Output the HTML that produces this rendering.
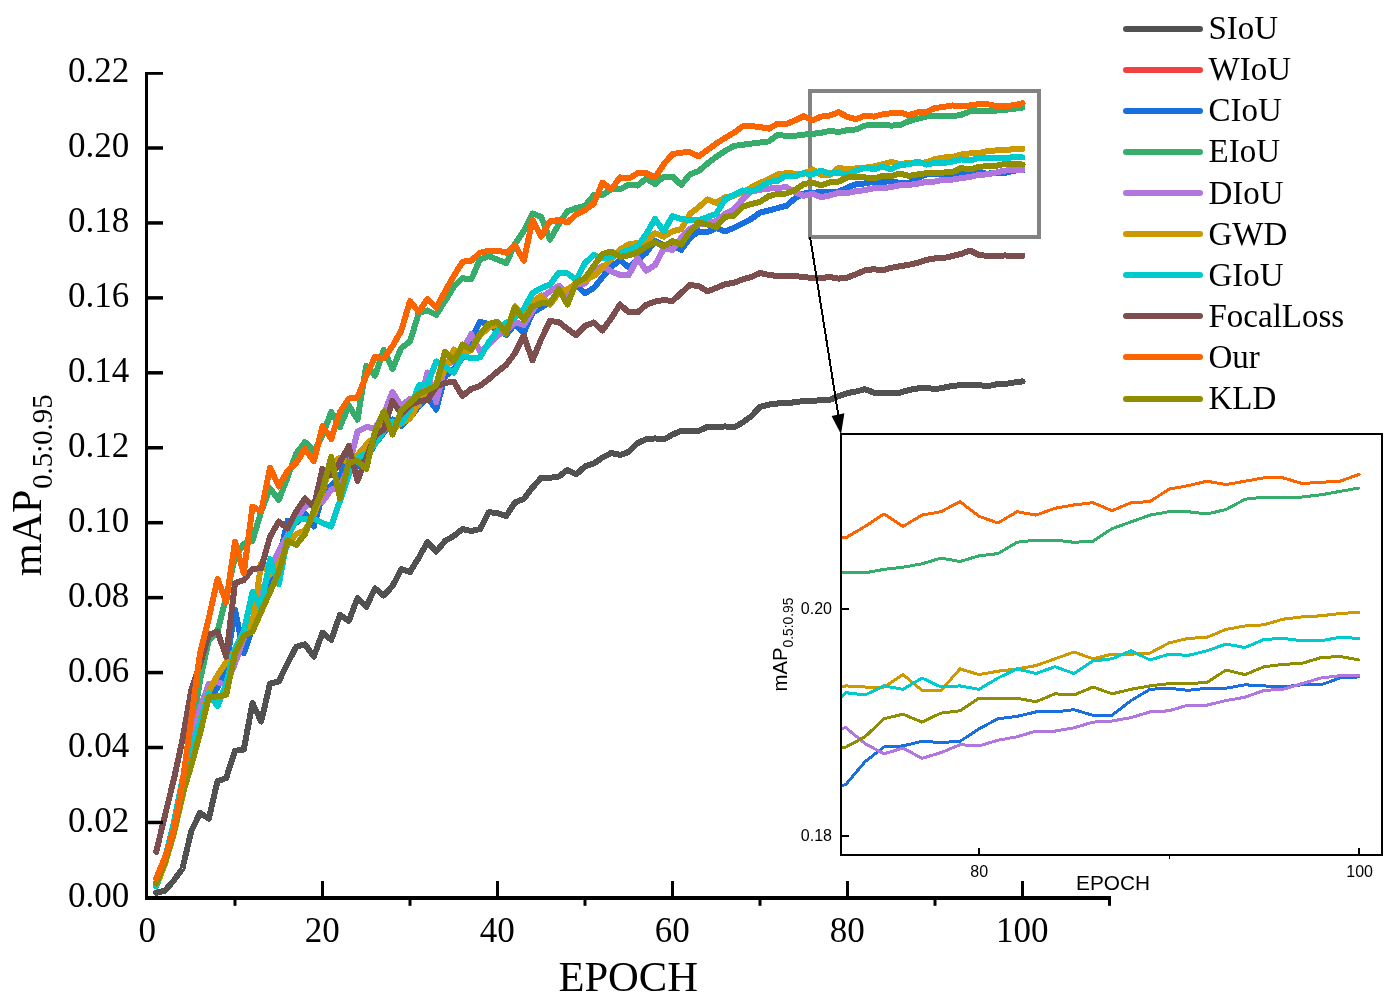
<!DOCTYPE html>
<html><head><meta charset="utf-8"><title>mAP chart</title>
<style>
html,body{margin:0;padding:0;background:#fff;}
svg{display:block;}
.t{font-family:"Liberation Serif",serif;fill:#000;}
.a{font-family:"Liberation Sans",sans-serif;fill:#000;}
.c{fill:none;stroke-width:6;stroke-linejoin:round;stroke-linecap:round;}
.i{fill:none;stroke-width:3;stroke-linejoin:round;stroke-linecap:round;}
</style></head><body>
<svg width="1397" height="1004" viewBox="0 0 1397 1004">
<rect width="1397" height="1004" fill="#fff"/>
<rect x="810" y="91" width="229" height="146" fill="none" stroke="#838383" stroke-width="4"/>
<g id="main-curves" shape-rendering="crispEdges" transform="scale(1.0,1)">
<polyline class="c" stroke="#515151" points="156.2,892.9 165.0,890.6 173.8,880.5 182.5,868.5 191.2,831.4 200.0,813.0 208.8,818.6 217.5,781.1 226.2,778.1 235.0,750.8 243.8,749.6 252.5,703.1 261.2,721.5 270.0,683.6 278.8,681.4 287.5,663.4 296.2,646.9 305.0,644.2 313.8,656.6 322.5,632.6 331.2,639.8 340.0,615.0 348.8,621.0 357.5,598.1 366.2,606.8 375.0,588.4 383.8,595.5 392.5,586.1 401.2,569.2 410.0,571.9 418.8,557.6 427.5,541.9 436.2,551.6 445.0,541.1 453.8,535.9 462.5,529.1 471.2,531.0 480.0,529.1 488.8,512.2 497.5,513.0 506.2,516.0 515.0,502.5 523.8,498.8 532.5,487.5 541.2,477.8 550.0,477.8 558.8,476.6 567.5,469.9 576.2,474.4 585.0,466.5 593.8,463.5 602.5,457.5 611.2,453.0 620.0,454.9 628.8,451.9 637.5,443.2 646.2,439.1 655.0,438.4 663.8,439.5 672.5,434.6 681.2,430.9 690.0,430.9 698.8,430.9 707.5,426.8 716.2,427.5 725.0,426.4 733.8,427.5 742.5,422.6 751.2,416.3 760.0,406.9 768.8,404.6 777.5,403.5 786.2,402.8 795.0,402.4 803.8,400.9 812.5,400.9 821.2,400.1 830.0,399.8 838.8,396.0 847.5,393.0 856.2,391.5 865.0,389.2 873.8,392.6 882.5,392.6 891.2,392.6 900.0,392.6 908.8,390.0 917.5,388.5 926.2,387.7 935.0,389.2 943.8,387.7 952.5,385.9 961.2,385.1 970.0,384.8 978.8,385.1 987.5,386.2 996.2,384.4 1005.0,384.0 1013.8,382.5 1022.5,381.4"/>
<polyline class="c" stroke="#F14040" points="156.2,878.2 165.0,857.6 173.8,829.1 182.5,783.0 191.2,719.6 200.0,653.2 208.8,618.4 217.5,579.0 226.2,601.9 235.0,541.9 243.8,573.4 252.5,506.6 261.2,511.5 270.0,467.6 278.8,486.4 287.5,471.0 296.2,463.1 305.0,448.9 313.8,461.2 322.5,426.0 331.2,439.1 340.0,411.8 348.8,398.6 357.5,397.5 366.2,375.8 375.0,357.0 383.8,358.1 392.5,346.1 401.2,330.8 410.0,301.1 418.8,312.0 427.5,298.9 436.2,307.9 445.0,291.4 453.8,276.0 462.5,261.8 471.2,260.6 480.0,252.8 488.8,250.5 497.5,250.5 506.2,252.8 515.0,245.2 523.8,260.6 532.5,220.1 541.2,236.6 550.0,221.2 558.8,220.1 567.5,222.4 576.2,214.5 585.0,210.0 593.8,203.6 602.5,182.6 611.2,189.4 620.0,177.4 628.8,178.5 637.5,173.2 646.2,173.2 655.0,177.4 663.8,164.2 672.5,154.1 681.2,152.6 690.0,152.2 698.8,156.4 707.5,150.0 716.2,143.6 725.0,138.0 733.8,132.8 742.5,126.4 751.2,126.0 760.0,127.1 768.8,128.6 777.5,123.8 786.2,124.1 795.0,120.4 803.8,116.2 812.5,120.4 821.2,116.6 830.0,115.5 838.8,112.1 847.5,117.0 856.2,119.2 865.0,115.5 873.8,116.6 882.5,114.4 891.2,113.2 900.0,112.5 908.8,115.1 917.5,112.5 926.2,112.1 935.0,108.0 943.8,106.9 952.5,105.4 961.2,106.5 970.0,105.4 978.8,104.2 987.5,104.2 996.2,106.1 1005.0,105.8 1013.8,105.4 1022.5,103.1"/>
<polyline class="c" stroke="#1A6FDF" points="156.2,886.5 165.0,864.0 173.8,834.0 182.5,796.5 191.2,759.0 200.0,725.2 208.8,699.0 217.5,687.8 226.2,665.2 235.0,609.8 243.8,653.2 252.5,627.8 261.2,601.5 270.0,579.0 278.8,560.2 287.5,520.9 296.2,522.8 305.0,513.4 313.8,526.5 322.5,494.6 331.2,485.2 340.0,477.8 348.8,445.9 357.5,466.5 366.2,459.0 375.0,444.0 383.8,432.8 392.5,419.6 401.2,426.0 410.0,417.8 418.8,406.5 427.5,397.1 436.2,409.5 445.0,376.5 453.8,369.0 462.5,357.8 471.2,339.0 480.0,321.8 488.8,324.0 497.5,330.8 506.2,334.9 515.0,324.0 523.8,332.6 532.5,312.8 541.2,307.5 550.0,302.2 558.8,293.2 567.5,289.1 576.2,284.6 585.0,293.2 593.8,288.0 602.5,277.1 611.2,267.0 620.0,260.2 628.8,267.4 637.5,260.2 646.2,252.8 655.0,241.1 663.8,245.2 672.5,245.2 681.2,249.8 690.0,237.8 698.8,231.4 707.5,232.1 716.2,228.0 725.0,231.4 733.8,228.0 742.5,223.5 751.2,219.0 760.0,212.6 768.8,210.4 777.5,208.1 786.2,205.9 795.0,198.4 803.8,193.5 812.5,193.1 821.2,191.6 830.0,192.0 838.8,191.6 847.5,187.5 856.2,184.1 865.0,183.4 873.8,181.9 882.5,181.9 891.2,181.1 900.0,183.0 908.8,183.0 917.5,178.1 926.2,174.4 935.0,174.0 943.8,174.8 952.5,174.0 961.2,174.0 970.0,172.9 978.8,173.2 987.5,173.6 996.2,172.9 1005.0,172.9 1013.8,170.6 1022.5,170.2"/>
<polyline class="c" stroke="#37AD6B" points="156.2,882.8 165.0,864.0 173.8,834.0 182.5,792.8 191.2,736.5 200.0,680.2 208.8,640.1 217.5,631.5 226.2,596.6 235.0,556.9 243.8,543.8 252.5,540.8 261.2,511.5 270.0,488.2 278.8,499.9 287.5,477.4 296.2,453.4 305.0,442.1 313.8,451.1 322.5,435.8 331.2,411.8 340.0,427.1 348.8,405.4 357.5,419.6 366.2,365.6 375.0,375.8 383.8,349.9 392.5,369.0 401.2,348.0 410.0,341.6 418.8,312.8 427.5,310.5 436.2,315.0 445.0,301.1 453.8,286.9 462.5,278.2 471.2,279.4 480.0,259.5 488.8,256.1 497.5,259.5 506.2,263.2 515.0,244.1 523.8,231.0 532.5,213.4 541.2,216.8 550.0,239.6 558.8,224.2 567.5,211.1 576.2,208.1 585.0,205.9 593.8,195.0 602.5,195.0 611.2,189.4 620.0,189.4 628.8,184.5 637.5,185.6 646.2,178.5 655.0,184.1 663.8,176.6 672.5,176.6 681.2,184.9 690.0,174.4 698.8,171.0 707.5,163.5 716.2,156.8 725.0,151.1 733.8,145.9 742.5,144.8 751.2,143.6 760.0,142.5 768.8,141.4 777.5,135.0 786.2,135.8 795.0,135.8 803.8,134.6 812.5,133.9 821.2,132.8 830.0,130.9 838.8,132.0 847.5,130.1 856.2,129.4 865.0,125.6 873.8,124.9 882.5,124.9 891.2,125.6 900.0,125.2 908.8,121.1 917.5,118.9 926.2,116.6 935.0,115.5 943.8,115.5 952.5,116.2 961.2,114.8 970.0,111.4 978.8,110.6 987.5,110.6 996.2,110.6 1005.0,109.9 1013.8,108.8 1022.5,107.6"/>
<polyline class="c" stroke="#B177DE" points="156.2,886.5 165.0,864.0 173.8,832.1 182.5,789.0 191.2,744.0 200.0,708.4 208.8,684.0 217.5,682.1 226.2,684.8 235.0,663.4 243.8,638.2 252.5,620.2 261.2,594.0 270.0,569.6 278.8,550.9 287.5,535.9 296.2,519.0 305.0,506.6 313.8,501.8 322.5,501.8 331.2,489.8 340.0,486.4 348.8,466.5 357.5,431.6 366.2,427.1 375.0,428.2 383.8,414.0 392.5,391.9 401.2,406.5 410.0,398.6 418.8,405.4 427.5,372.4 436.2,402.0 445.0,365.6 453.8,361.5 462.5,350.6 471.2,334.1 480.0,351.4 488.8,345.0 497.5,335.2 506.2,330.8 515.0,321.8 523.8,325.1 532.5,310.9 541.2,297.8 550.0,291.4 558.8,285.8 567.5,294.4 576.2,284.6 585.0,283.5 593.8,270.4 602.5,265.9 611.2,271.5 620.0,274.9 628.8,275.2 637.5,258.0 646.2,270.8 655.0,265.1 663.8,248.6 672.5,249.8 681.2,237.8 690.0,229.1 698.8,224.6 707.5,222.4 716.2,221.2 725.0,213.8 733.8,209.2 742.5,199.5 751.2,191.6 760.0,189.8 768.8,188.6 777.5,187.9 786.2,187.1 795.0,192.4 803.8,195.8 812.5,193.9 821.2,197.2 830.0,195.4 838.8,192.8 847.5,193.1 856.2,191.2 865.0,190.1 873.8,188.2 882.5,188.2 891.2,187.1 900.0,185.2 908.8,184.9 917.5,183.8 926.2,181.9 935.0,181.5 943.8,179.6 952.5,179.6 961.2,178.1 970.0,177.0 978.8,174.8 987.5,174.4 996.2,172.5 1005.0,170.6 1013.8,169.9 1022.5,169.9"/>
<polyline class="c" stroke="#CC9900" points="156.2,886.5 165.0,864.0 173.8,834.0 182.5,796.5 191.2,759.0 200.0,721.5 208.8,691.5 217.5,675.4 226.2,662.2 235.0,650.2 243.8,635.2 252.5,622.9 261.2,563.6 270.0,574.5 278.8,564.0 287.5,545.2 296.2,534.0 305.0,530.6 313.8,515.2 322.5,491.6 331.2,462.8 340.0,457.9 348.8,462.8 357.5,455.2 366.2,444.8 375.0,436.5 383.8,425.2 392.5,429.0 401.2,423.4 410.0,418.5 418.8,402.8 427.5,391.5 436.2,384.0 445.0,370.1 453.8,349.5 462.5,354.0 471.2,350.2 480.0,335.2 488.8,327.8 497.5,324.0 506.2,331.5 515.0,306.4 523.8,316.5 532.5,302.2 541.2,295.5 550.0,304.5 558.8,293.2 567.5,289.1 576.2,283.5 585.0,280.1 593.8,276.0 602.5,268.1 611.2,259.5 620.0,249.4 628.8,244.5 637.5,243.0 646.2,241.9 655.0,233.2 663.8,236.6 672.5,231.4 681.2,229.1 690.0,213.8 698.8,207.0 707.5,199.5 716.2,202.9 725.0,197.2 733.8,195.8 742.5,192.0 751.2,187.5 760.0,183.0 768.8,178.9 777.5,174.4 786.2,173.2 795.0,173.6 803.8,173.6 812.5,169.5 821.2,174.8 830.0,174.8 838.8,167.6 847.5,169.5 856.2,168.4 865.0,167.6 873.8,166.5 882.5,164.2 891.2,162.0 900.0,164.2 908.8,162.8 917.5,162.8 926.2,162.4 935.0,159.0 943.8,157.5 952.5,157.1 961.2,154.5 970.0,153.4 978.8,153.0 987.5,151.1 996.2,150.4 1005.0,150.0 1013.8,149.2 1022.5,148.9"/>
<polyline class="c" stroke="#00CBCC" points="156.2,886.5 165.0,858.4 173.8,822.8 182.5,779.6 191.2,747.8 200.0,722.2 208.8,693.4 217.5,706.1 226.2,684.0 235.0,648.4 243.8,631.5 252.5,592.1 261.2,607.5 270.0,559.1 278.8,584.2 287.5,537.8 296.2,519.8 305.0,518.6 313.8,518.6 322.5,523.1 331.2,526.5 340.0,500.6 348.8,475.1 357.5,457.9 366.2,453.4 375.0,444.0 383.8,430.9 392.5,421.5 401.2,423.4 410.0,409.5 418.8,385.5 427.5,384.0 436.2,361.5 445.0,367.1 453.8,372.8 462.5,355.9 471.2,358.1 480.0,357.4 488.8,342.4 497.5,330.8 506.2,322.9 515.0,317.6 523.8,308.6 532.5,293.2 541.2,288.0 550.0,284.6 558.8,272.6 567.5,273.4 576.2,280.1 585.0,262.9 593.8,255.0 602.5,258.4 611.2,257.2 620.0,253.5 628.8,249.8 637.5,246.4 646.2,234.0 655.0,219.0 663.8,231.4 672.5,216.0 681.2,219.0 690.0,220.1 698.8,220.1 707.5,217.1 716.2,213.8 725.0,199.5 733.8,195.0 742.5,190.5 751.2,191.6 760.0,187.5 768.8,181.9 777.5,180.8 786.2,175.5 795.0,176.2 803.8,173.2 812.5,174.4 821.2,170.6 830.0,173.6 838.8,173.2 847.5,174.4 856.2,170.6 865.0,167.6 873.8,169.1 882.5,166.9 891.2,169.1 900.0,165.0 908.8,164.2 917.5,161.6 926.2,164.6 935.0,162.8 943.8,163.1 952.5,161.6 961.2,159.4 970.0,160.5 978.8,157.9 987.5,157.5 996.2,158.2 1005.0,158.2 1013.8,157.1 1022.5,157.5"/>
<polyline class="c" stroke="#7D4E4E" points="156.2,852.0 165.0,815.2 173.8,779.6 182.5,739.5 191.2,690.4 200.0,664.5 208.8,634.9 217.5,631.5 226.2,656.6 235.0,583.1 243.8,580.1 252.5,568.9 261.2,568.1 270.0,536.6 278.8,521.6 287.5,528.4 296.2,511.5 305.0,498.4 313.8,507.0 322.5,468.8 331.2,475.1 340.0,462.0 348.8,446.2 357.5,480.8 366.2,457.9 375.0,435.8 383.8,429.4 392.5,400.9 401.2,414.0 410.0,405.0 418.8,401.3 427.5,399.8 436.2,386.6 445.0,382.9 453.8,381.8 462.5,396.0 471.2,388.9 480.0,385.9 488.8,379.1 497.5,371.6 506.2,364.9 515.0,353.2 523.8,335.6 532.5,360.4 541.2,339.0 550.0,321.0 558.8,322.1 567.5,328.9 576.2,335.2 585.0,325.9 593.8,322.5 602.5,330.4 611.2,318.4 620.0,304.5 628.8,312.4 637.5,312.4 646.2,304.9 655.0,301.5 663.8,300.0 672.5,301.1 681.2,292.9 690.0,285.0 698.8,286.1 707.5,291.4 716.2,288.0 725.0,284.2 733.8,282.8 742.5,279.4 751.2,277.1 760.0,273.0 768.8,274.9 777.5,276.0 786.2,276.0 795.0,276.0 803.8,277.1 812.5,277.9 821.2,277.9 830.0,277.1 838.8,278.6 847.5,277.5 856.2,274.1 865.0,270.4 873.8,269.2 882.5,270.4 891.2,267.8 900.0,266.2 908.8,264.8 917.5,262.9 926.2,259.9 935.0,258.4 943.8,258.0 952.5,256.1 961.2,253.9 970.0,250.5 978.8,255.0 987.5,255.8 996.2,256.1 1005.0,255.4 1013.8,256.1 1022.5,255.8"/>
<polyline class="c" stroke="#8E8E00" points="156.2,883.5 165.0,862.1 173.8,833.2 182.5,794.6 191.2,765.8 200.0,733.5 208.8,697.1 217.5,696.4 226.2,694.9 235.0,653.2 243.8,636.0 252.5,631.5 261.2,611.6 270.0,592.1 278.8,572.2 287.5,540.4 296.2,544.9 305.0,534.0 313.8,510.8 322.5,490.5 331.2,456.8 340.0,498.4 348.8,462.0 357.5,461.2 366.2,468.8 375.0,431.6 383.8,411.4 392.5,434.6 401.2,410.6 410.0,403.1 418.8,394.1 427.5,390.0 436.2,385.5 445.0,351.8 453.8,361.1 462.5,344.6 471.2,349.5 480.0,334.1 488.8,324.0 497.5,321.8 506.2,333.8 515.0,307.5 523.8,319.9 532.5,306.4 541.2,303.4 550.0,303.4 558.8,289.1 567.5,304.5 576.2,282.4 585.0,278.2 593.8,265.9 602.5,253.9 611.2,251.6 620.0,256.9 628.8,255.4 637.5,252.4 646.2,246.4 655.0,242.2 663.8,246.4 672.5,241.1 681.2,244.5 690.0,231.4 698.8,222.4 707.5,224.6 716.2,226.9 725.0,216.8 733.8,216.0 742.5,207.0 751.2,204.0 760.0,201.8 768.8,196.1 777.5,193.9 786.2,193.5 795.0,190.1 803.8,184.1 812.5,182.6 821.2,185.2 830.0,182.2 838.8,181.5 847.5,177.4 856.2,177.4 865.0,177.4 873.8,178.5 882.5,175.9 891.2,176.2 900.0,173.6 908.8,175.9 917.5,174.4 926.2,173.2 935.0,172.5 943.8,172.5 952.5,172.1 961.2,168.0 970.0,169.5 978.8,166.9 987.5,166.1 996.2,165.8 1005.0,163.9 1013.8,163.5 1022.5,164.6"/>
<polyline class="c" stroke="#FB6501" points="156.2,878.2 165.0,857.6 173.8,829.1 182.5,783.0 191.2,719.6 200.0,653.2 208.8,618.4 217.5,579.0 226.2,601.9 235.0,541.9 243.8,573.4 252.5,506.6 261.2,511.5 270.0,467.6 278.8,486.4 287.5,471.0 296.2,463.1 305.0,448.9 313.8,461.2 322.5,426.0 331.2,439.1 340.0,411.8 348.8,398.6 357.5,397.5 366.2,375.8 375.0,357.0 383.8,358.1 392.5,346.1 401.2,330.8 410.0,301.1 418.8,312.0 427.5,298.9 436.2,307.9 445.0,291.4 453.8,276.0 462.5,261.8 471.2,260.6 480.0,252.8 488.8,250.5 497.5,250.5 506.2,252.8 515.0,245.2 523.8,260.6 532.5,220.1 541.2,236.6 550.0,221.2 558.8,220.1 567.5,222.4 576.2,214.5 585.0,210.0 593.8,203.6 602.5,182.6 611.2,189.4 620.0,177.4 628.8,178.5 637.5,173.2 646.2,173.2 655.0,177.4 663.8,164.2 672.5,154.1 681.2,152.6 690.0,152.2 698.8,156.4 707.5,150.0 716.2,143.6 725.0,138.0 733.8,132.8 742.5,126.4 751.2,126.0 760.0,127.1 768.8,128.6 777.5,123.8 786.2,124.1 795.0,120.4 803.8,116.2 812.5,120.4 821.2,116.6 830.0,115.5 838.8,112.1 847.5,117.0 856.2,119.2 865.0,115.5 873.8,116.6 882.5,114.4 891.2,113.2 900.0,112.5 908.8,115.1 917.5,112.5 926.2,112.1 935.0,108.0 943.8,106.9 952.5,105.4 961.2,106.5 970.0,105.4 978.8,104.2 987.5,104.2 996.2,106.1 1005.0,105.8 1013.8,105.4 1022.5,103.1"/>
</g>
<g fill="#000">
<rect x="145" y="72" width="3" height="828"/>
<rect x="145" y="896" width="966" height="4"/>
<rect x="147" y="820.71" width="16" height="3.50"/>
<rect x="147" y="745.77" width="16" height="3.50"/>
<rect x="147" y="670.83" width="16" height="3.50"/>
<rect x="147" y="595.89" width="16" height="3.50"/>
<rect x="147" y="520.95" width="16" height="3.50"/>
<rect x="147" y="446.01" width="16" height="3.50"/>
<rect x="147" y="371.07" width="16" height="3.50"/>
<rect x="147" y="296.13" width="16" height="3.50"/>
<rect x="147" y="221.19" width="16" height="3.50"/>
<rect x="147" y="146.25" width="16" height="3.50"/>
<rect x="147" y="72.00" width="16" height="2.81"/>
<rect x="321.0" y="881" width="3" height="16"/>
<rect x="496.0" y="881" width="3" height="16"/>
<rect x="671.0" y="881" width="3" height="16"/>
<rect x="846.0" y="881" width="3" height="16"/>
<rect x="1021.0" y="881" width="3" height="16"/>
<rect x="233.5" y="899" width="3" height="6.8"/>
<rect x="408.5" y="899" width="3" height="6.8"/>
<rect x="583.5" y="899" width="3" height="6.8"/>
<rect x="758.5" y="899" width="3" height="6.8"/>
<rect x="933.5" y="899" width="3" height="6.8"/>
<rect x="1108.0" y="899" width="3" height="6.8"/>
</g>
<g class="t" font-size="35">
<text x="129.3" y="906.7" text-anchor="end">0.00</text>
<text x="129.3" y="831.8" text-anchor="end">0.02</text>
<text x="129.3" y="756.8" text-anchor="end">0.04</text>
<text x="129.3" y="681.9" text-anchor="end">0.06</text>
<text x="129.3" y="606.9" text-anchor="end">0.08</text>
<text x="129.3" y="532.0" text-anchor="end">0.10</text>
<text x="129.3" y="457.1" text-anchor="end">0.12</text>
<text x="129.3" y="382.1" text-anchor="end">0.14</text>
<text x="129.3" y="307.2" text-anchor="end">0.16</text>
<text x="129.3" y="232.2" text-anchor="end">0.18</text>
<text x="129.3" y="157.3" text-anchor="end">0.20</text>
<text x="129.3" y="82.4" text-anchor="end">0.22</text>
<text x="147.2" y="942" text-anchor="middle">0</text>
<text x="322.2" y="942" text-anchor="middle">20</text>
<text x="497.2" y="942" text-anchor="middle">40</text>
<text x="672.2" y="942" text-anchor="middle">60</text>
<text x="847.2" y="942" text-anchor="middle">80</text>
<text x="1022.2" y="942" text-anchor="middle">100</text>
</g>
<text class="t" font-size="42.6" x="628.2" y="990.6" text-anchor="middle">EPOCH</text>
<text class="t" font-size="42" transform="translate(41.2,576) rotate(-90)">mAP<tspan font-size="28.8" dx="0.8" dy="11.2">0.5:0.95</tspan></text>
<g id="legend">
<rect x="1123" y="26" width="80" height="6" rx="3" ry="3" fill="#515151"/>
<text class="t" font-size="33" x="1208.5" y="39.2">SIoU</text>
<rect x="1123" y="67" width="80" height="6" rx="3" ry="3" fill="#F14040"/>
<text class="t" font-size="33" x="1208.5" y="80.3">WIoU</text>
<rect x="1123" y="108" width="80" height="6" rx="3" ry="3" fill="#1A6FDF"/>
<text class="t" font-size="33" x="1208.5" y="121.4">CIoU</text>
<rect x="1123" y="149" width="80" height="6" rx="3" ry="3" fill="#37AD6B"/>
<text class="t" font-size="33" x="1208.5" y="162.4">EIoU</text>
<rect x="1123" y="190" width="80" height="6" rx="3" ry="3" fill="#B177DE"/>
<text class="t" font-size="33" x="1208.5" y="203.5">DIoU</text>
<rect x="1123" y="231" width="80" height="6" rx="3" ry="3" fill="#CC9900"/>
<text class="t" font-size="33" x="1208.5" y="244.6">GWD</text>
<rect x="1123" y="272" width="80" height="6" rx="3" ry="3" fill="#00CBCC"/>
<text class="t" font-size="33" x="1208.5" y="285.7">GIoU</text>
<rect x="1123" y="313" width="80" height="6" rx="3" ry="3" fill="#7D4E4E"/>
<text class="t" font-size="33" x="1208.5" y="326.8">FocalLoss</text>
<rect x="1123" y="354" width="80" height="6" rx="3" ry="3" fill="#FB6501"/>
<text class="t" font-size="33" x="1208.5" y="367.8">Our</text>
<rect x="1123" y="396" width="80" height="6" rx="3" ry="3" fill="#8E8E00"/>
<text class="t" font-size="33" x="1208.5" y="408.9">KLD</text>
</g>
<path d="M810.1,237 L838.3,415" stroke="#000" stroke-width="2" fill="none" shape-rendering="crispEdges"/>
<path d="M841,434.2 L831.6,415.9 L844.4,413.3 Z" fill="#000"/>
<g id="inset">
<clipPath id="ic"><rect x="841" y="434" width="541" height="421"/></clipPath>
<g clip-path="url(#ic)" shape-rendering="crispEdges"><g transform="scale(1,1)">
<polyline class="i" stroke="#F14040" points="827.0,536.6 846.0,537.7 865.0,526.4 884.0,514.0 903.0,526.4 922.0,515.1 941.0,511.7 960.0,501.6 979.0,516.3 998.0,523.0 1017.0,511.7 1036.0,515.1 1055.0,508.3 1074.0,504.9 1093.0,502.7 1112.0,510.6 1131.0,502.7 1150.0,501.6 1169.0,489.1 1188.0,485.7 1207.0,481.2 1226.0,484.6 1245.0,481.2 1264.0,477.8 1283.0,477.8 1302.0,483.5 1321.0,482.3 1340.0,481.2 1359.0,474.4"/>
<polyline class="i" stroke="#1A6FDF" points="827.0,791.1 846.0,784.3 865.0,761.7 884.0,747.0 903.0,745.9 922.0,741.3 941.0,742.5 960.0,741.3 979.0,728.9 998.0,718.7 1017.0,716.4 1036.0,711.9 1055.0,711.9 1074.0,709.7 1093.0,715.3 1112.0,715.3 1131.0,700.6 1150.0,689.3 1169.0,688.2 1188.0,690.4 1207.0,688.2 1226.0,688.2 1245.0,684.8 1264.0,685.9 1283.0,687.0 1302.0,684.8 1321.0,684.8 1340.0,678.0 1359.0,676.9"/>
<polyline class="i" stroke="#37AD6B" points="827.0,570.5 846.0,572.8 865.0,572.8 884.0,569.4 903.0,567.2 922.0,563.8 941.0,558.1 960.0,561.5 979.0,555.8 998.0,553.6 1017.0,542.3 1036.0,540.0 1055.0,540.0 1074.0,542.3 1093.0,541.1 1112.0,528.7 1131.0,521.9 1150.0,515.1 1169.0,511.7 1188.0,511.7 1207.0,514.0 1226.0,509.5 1245.0,499.3 1264.0,497.0 1283.0,497.0 1302.0,497.0 1321.0,494.8 1340.0,491.4 1359.0,488.0"/>
<polyline class="i" stroke="#B177DE" points="827.0,730.0 846.0,727.8 865.0,743.6 884.0,753.8 903.0,748.1 922.0,758.3 941.0,752.6 960.0,744.7 979.0,745.9 998.0,740.2 1017.0,736.8 1036.0,731.1 1055.0,731.1 1074.0,727.8 1093.0,722.1 1112.0,721.0 1131.0,717.6 1150.0,711.9 1169.0,710.8 1188.0,705.1 1207.0,705.1 1226.0,700.6 1245.0,697.2 1264.0,690.4 1283.0,689.3 1302.0,683.6 1321.0,678.0 1340.0,675.7 1359.0,675.7"/>
<polyline class="i" stroke="#CC9900" points="827.0,689.3 846.0,685.9 865.0,687.0 884.0,687.0 903.0,674.6 922.0,690.4 941.0,690.4 960.0,668.9 979.0,674.6 998.0,671.2 1017.0,668.9 1036.0,665.6 1055.0,658.8 1074.0,652.0 1093.0,658.8 1112.0,654.2 1131.0,654.2 1150.0,653.1 1169.0,642.9 1188.0,638.4 1207.0,637.3 1226.0,629.4 1245.0,626.0 1264.0,624.8 1283.0,619.2 1302.0,616.9 1321.0,615.8 1340.0,613.5 1359.0,612.4"/>
<polyline class="i" stroke="#00CBCC" points="827.0,708.5 846.0,692.7 865.0,695.0 884.0,685.9 903.0,689.3 922.0,678.0 941.0,687.0 960.0,685.9 979.0,689.3 998.0,678.0 1017.0,668.9 1036.0,673.5 1055.0,666.7 1074.0,673.5 1093.0,661.0 1112.0,658.8 1131.0,650.8 1150.0,659.9 1169.0,654.2 1188.0,655.4 1207.0,650.8 1226.0,644.1 1245.0,647.5 1264.0,639.5 1283.0,638.4 1302.0,640.7 1321.0,640.7 1340.0,637.3 1359.0,638.4"/>
<polyline class="i" stroke="#8E8E00" points="827.0,748.1 846.0,747.0 865.0,736.8 884.0,718.7 903.0,714.2 922.0,722.1 941.0,713.1 960.0,710.8 979.0,698.3 998.0,698.3 1017.0,698.3 1036.0,701.7 1055.0,693.8 1074.0,695.0 1093.0,687.0 1112.0,693.8 1131.0,689.3 1150.0,685.9 1169.0,683.6 1188.0,683.6 1207.0,682.5 1226.0,670.1 1245.0,674.6 1264.0,666.7 1283.0,664.4 1302.0,663.3 1321.0,657.6 1340.0,656.5 1359.0,659.9"/>
<polyline class="i" stroke="#FB6501" points="827.0,536.6 846.0,537.7 865.0,526.4 884.0,514.0 903.0,526.4 922.0,515.1 941.0,511.7 960.0,501.6 979.0,516.3 998.0,523.0 1017.0,511.7 1036.0,515.1 1055.0,508.3 1074.0,504.9 1093.0,502.7 1112.0,510.6 1131.0,502.7 1150.0,501.6 1169.0,489.1 1188.0,485.7 1207.0,481.2 1226.0,484.6 1245.0,481.2 1264.0,477.8 1283.0,477.8 1302.0,483.5 1321.0,482.3 1340.0,481.2 1359.0,474.4"/>
</g></g>
<rect x="841" y="434" width="541" height="421" fill="none" stroke="#000" stroke-width="2"/>
<g fill="#000">
<rect x="841" y="608" width="8" height="2"/>
<rect x="841" y="835" width="8" height="2"/>
<rect x="978" y="848" width="2" height="7"/>
<rect x="1358" y="848" width="2" height="7"/>
<rect x="1169" y="855" width="1" height="4"/>
</g>
<g class="a" font-size="16">
<text x="832" y="614.0" text-anchor="end">0.20</text>
<text x="832" y="841.0" text-anchor="end">0.18</text>
<text x="979.2" y="876.8" text-anchor="middle">80</text>
<text x="1359.6" y="876.8" text-anchor="middle">100</text>
</g>
<text class="a" font-size="20.8" x="1113.1" y="890.0" text-anchor="middle">EPOCH</text>
<text class="a" font-size="20.4" transform="translate(787,691.6) rotate(-90)">mAP<tspan font-size="13.8" dy="6.4">0.5:0.95</tspan></text>
</g>
</svg>
</body></html>
